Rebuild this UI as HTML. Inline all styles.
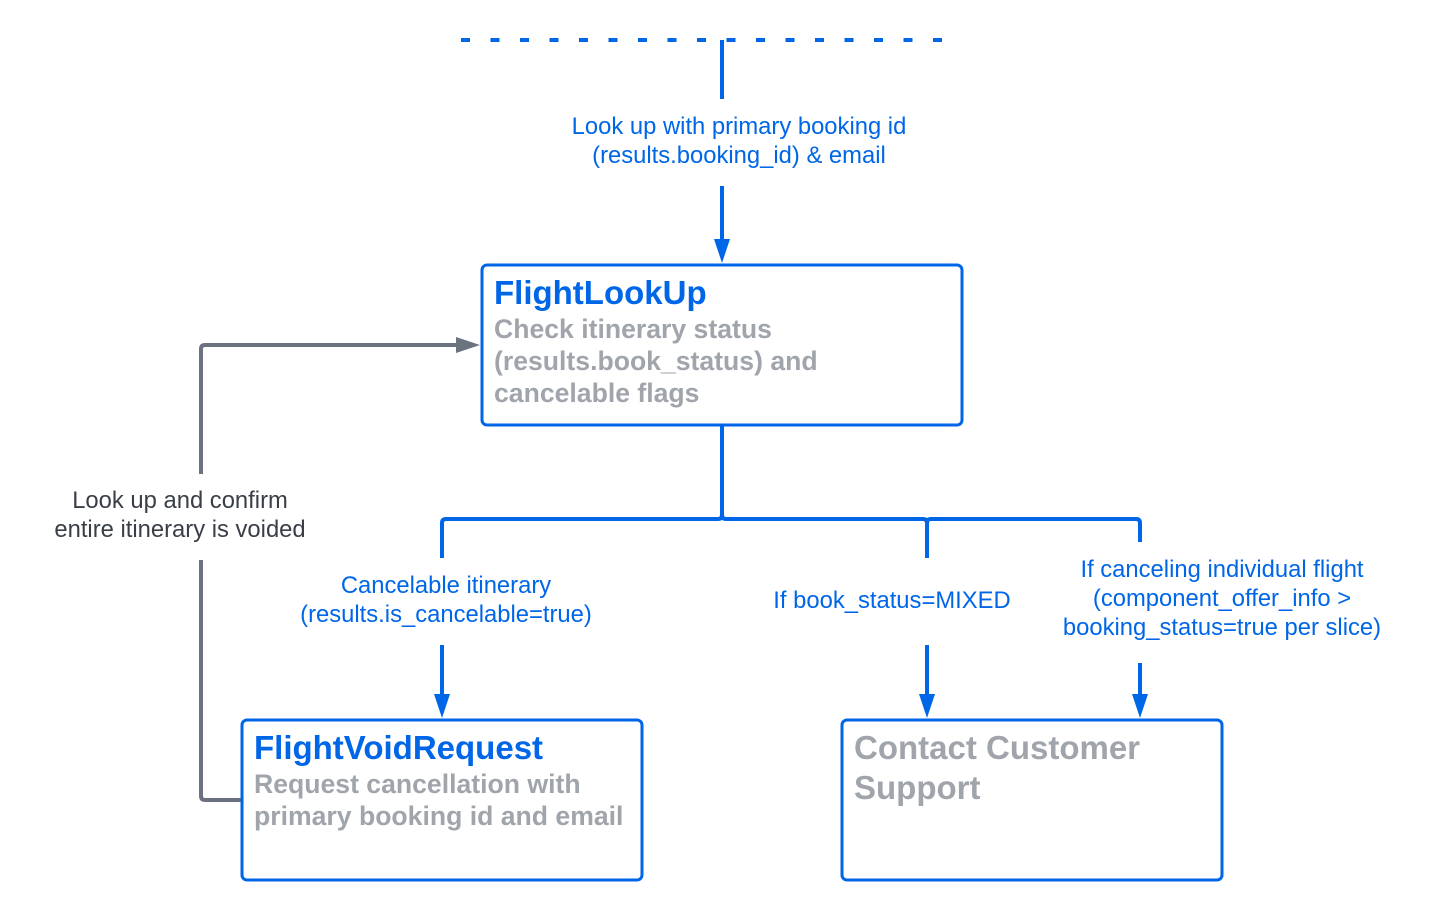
<!DOCTYPE html>
<html><head><style>body{margin:0;background:#fff}svg{display:block}</style></head><body>
<svg width="1442" height="920" viewBox="0 0 1442 920" xmlns="http://www.w3.org/2000/svg" font-family="Liberation Sans, Arial, sans-serif">
<g fill="none" stroke="#0066e8" stroke-width="4">
<line x1="461" y1="40" x2="945" y2="40" stroke-dasharray="9 20.5"/>
<line x1="722" y1="40" x2="722" y2="99"/>
<line x1="722" y1="186" x2="722" y2="245"/>
<path d="M722 425 V515 Q722 519 718 519 H446 Q442 519 442 523 V558"/>
<path d="M722 515 Q722 519 726 519 H923 Q927 519 927 523 V558"/>
<path d="M927 523 Q927 519 931 519 H1136 Q1140 519 1140 523 V542"/>
<line x1="442" y1="645" x2="442" y2="700"/>
<line x1="927" y1="645" x2="927" y2="700"/>
<line x1="1140" y1="663" x2="1140" y2="700"/>
</g>
<g fill="#0066e8">
<path d="M714 239 L730 239 L722 263 Z"/>
<path d="M434 694 L450 694 L442 718 Z"/>
<path d="M919 694 L935 694 L927 718 Z"/>
<path d="M1132 694 L1148 694 L1140 718 Z"/>
</g>
<path d="M242 800 H205 Q201 800 201 796 V560 M201 474 V349 Q201 345 205 345 H462" fill="none" stroke="#6b7280" stroke-width="4"/>
<path d="M456 337 L480 345 L456 353 Z" fill="#6b7280"/>
<g fill="#fff" stroke="#0066e8" stroke-width="3">
<rect x="482" y="265" width="480" height="160" rx="5"/>
<rect x="242" y="720" width="400" height="160" rx="5"/>
<rect x="842" y="720" width="380" height="160" rx="5"/>
</g>
<g font-weight="bold">
<text x="494" y="304" font-size="33" fill="#0066e8">FlightLookUp</text>
<text x="494" y="338" font-size="26.6" fill="#a0a4ab">Check itinerary status</text>
<text x="494" y="370" font-size="26.6" fill="#a0a4ab">(results.book_status) and</text>
<text x="494" y="402" font-size="26.6" fill="#a0a4ab">cancelable flags</text>
<text x="254" y="759" font-size="33" fill="#0066e8">FlightVoidRequest</text>
<text x="254" y="793" font-size="26.6" fill="#a0a4ab">Request cancellation with</text>
<text x="254" y="825" font-size="26.6" fill="#a0a4ab">primary booking id and email</text>
<text x="854" y="759" font-size="33" fill="#a0a4ab">Contact Customer</text>
<text x="854" y="799" font-size="33" fill="#a0a4ab">Support</text>
</g>
<g font-size="23.8" fill="#0066e8" text-anchor="middle">
<text x="739" y="134">Look up with primary booking id</text>
<text x="739" y="163">(results.booking_id) &amp; email</text>
<text x="446" y="593">Cancelable itinerary</text>
<text x="446" y="622">(results.is_cancelable=true)</text>
<text x="892" y="608">If book_status=MIXED</text>
<text x="1222" y="577">If canceling individual flight</text>
<text x="1222" y="606">(component_offer_info &gt;</text>
<text x="1222" y="635">booking_status=true per slice)</text>
</g>
<g font-size="23.8" fill="#3a3f47" text-anchor="middle">
<text x="180" y="508">Look up and confirm</text>
<text x="180" y="537">entire itinerary is voided</text>
</g>
</svg>
</body></html>
